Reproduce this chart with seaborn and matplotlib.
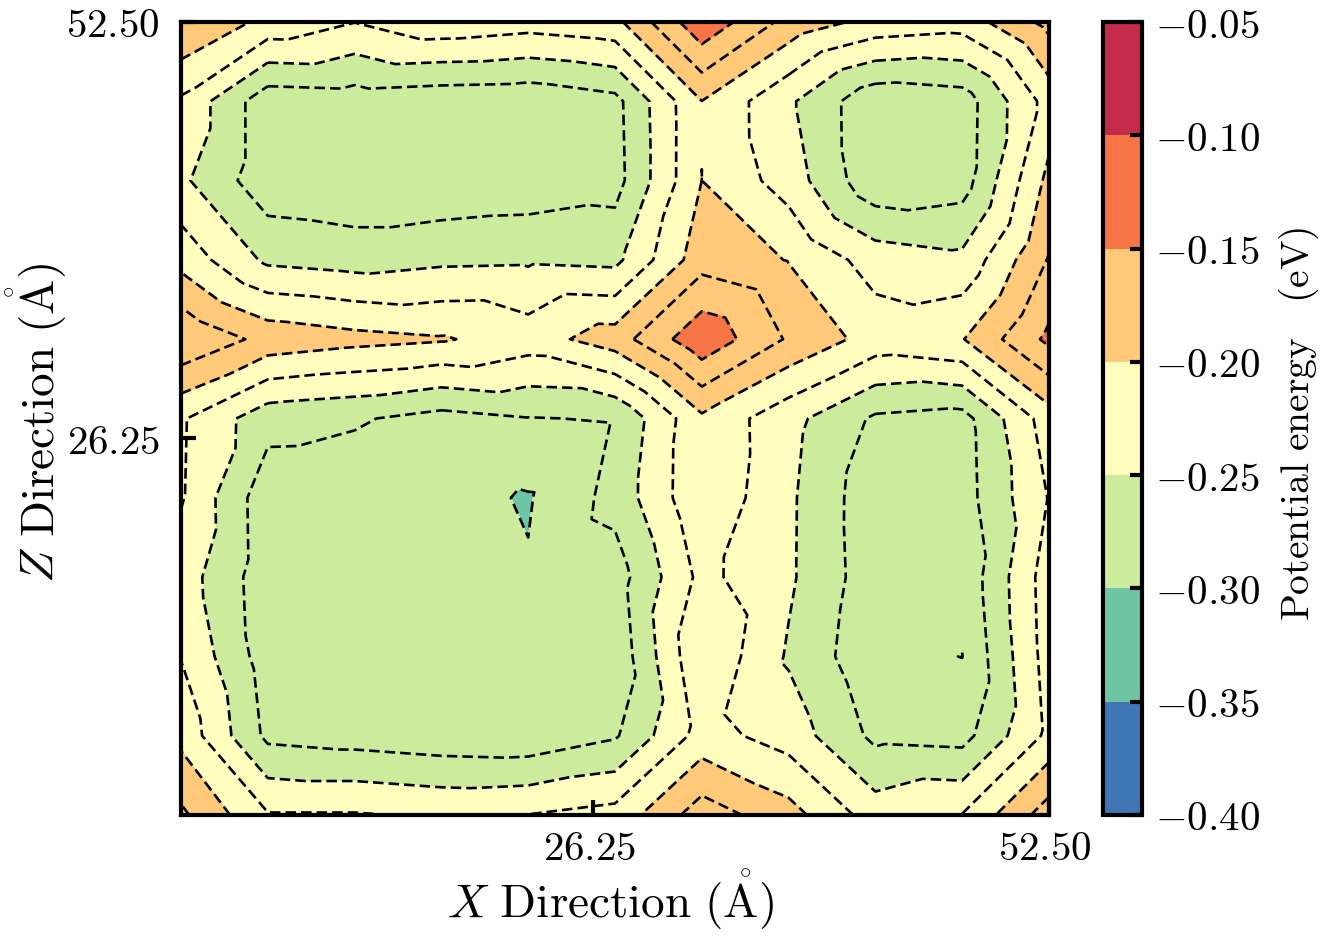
# potential energy map, x-z plane
import matplotlib
matplotlib.use('Agg')
import matplotlib.pyplot as plt
import matplotlib.tri as mtri
import matplotlib.transforms as mtrans
import numpy as np
import seaborn as sns

x_pos = [2.5, 7.5, 12.5, 17.5, 22.5, 27.5, 32.5, 37.5, 42.5, 47.5, 52.5]
z_pos = [52.5, 47.5, 42.5, 37.5, 32.5, 27.5, 22.5, 17.5, 12.5, 7.5, 2.5]

# one row per z value, top of the map first
row_525 = [-0.174, -0.207, -0.2245, -0.207, -0.214, -0.207, -0.1305, -0.1836, -0.208, -0.214, -0.167]
row_475 = [-0.229, -0.291, -0.288, -0.292, -0.294, -0.2827, -0.2003, -0.2458, -0.294, -0.288, -0.215]
row_425 = [-0.245, -0.291, -0.295, -0.295, -0.291, -0.2845, -0.19995, -0.2365, -0.2935, -0.287, -0.193]
row_375 = [-0.209, -0.255, -0.261, -0.255, -0.2536, -0.2566, -0.185, -0.201, -0.236, -0.244, -0.173]
row_325 = [-0.152, -0.183, -0.192, -0.1975, -0.212, -0.187, -0.131, -0.178, -0.2104, -0.2013, -0.144]
row_275 = [-0.222, -0.266, -0.272, -0.284, -0.276, -0.2735, -0.2047, -0.2417, -0.279, -0.2845, -0.212]
row_225 = [-0.223, -0.291, -0.292, -0.292, -0.302, -0.2665, -0.204, -0.2456, -0.2915, -0.286, -0.2236]
row_175 = [-0.237, -0.290, -0.295, -0.297, -0.298, -0.287, -0.218, -0.246, -0.290, -0.294, -0.212]
row_125 = [-0.226, -0.288, -0.294, -0.296, -0.297, -0.2935, -0.202, -0.253, -0.294, -0.3003, -0.214]
row_075 = [-0.207, -0.281, -0.286, -0.291, -0.293, -0.278, -0.215, -0.236, -0.281, -0.284, -0.219]
row_025 = [-0.170, -0.223, -0.223, -0.228, -0.2245, -0.216, -0.162, -0.19, -0.237, -0.224, -0.162]

# which way each grid cell is split into triangles, b = \ and f = /
cell_split = ['fbfbfbfbff', 'bffffffbff', 'bfffffbfbb', 'ffbfbffbfb', 'fffbbfffbb',
              'fbfbfffbfb', 'bffbffffff', 'bffffbfffb', 'fffffbfffb', 'bfffffbbbf']

fill_levels = [-0.40, -0.35, -0.30, -0.25, -0.20, -0.15, -0.10, -0.05]
line_levels = [-0.30, -0.275, -0.25, -0.225, -0.20, -0.175, -0.15]
tick_pos = [26.25, 52.5]
tick_labels = ['$26.25$', '$52.50$']
cbar_labels = ['$-0.40$', '$-0.35$', '$-0.30$', '$-0.25$', '$-0.20$', '$-0.15$', '$-0.10$', '$-0.05$']

sns.set_style('ticks', rc={'text.color': 'k', 'axes.labelcolor': 'k',
                           'xtick.color': 'k', 'ytick.color': 'k'})
plt.rcParams['mathtext.fontset'] = 'cm'
cmap = sns.color_palette('Spectral_r', as_cmap=True)

grid = np.array([row_525, row_475, row_425, row_375, row_325, row_275,
                 row_225, row_175, row_125, row_075, row_025])
xx, zz = np.meshgrid(x_pos, z_pos)

nx = len(x_pos)
triangles = []
for r, splits in enumerate(cell_split):
    for c, s in enumerate(splits):
        tl, tr = r * nx + c, r * nx + c + 1
        bl, br = tl + nx, tr + nx
        if s == 'b':
            triangles += [[tl, br, tr], [tl, bl, br]]
        else:
            triangles += [[tl, bl, tr], [bl, br, tr]]
tri = mtri.Triangulation(xx.ravel(), zz.ravel(), triangles)

fig = plt.figure(figsize=(13.26, 9.40), dpi=100)
ax = fig.add_axes([181 / 1326, 125 / 940, 868 / 1326, 793 / 940])
cax = fig.add_axes([1103 / 1326, 125 / 940, 39 / 1326, 793 / 940])

cf = ax.tricontourf(tri, grid.ravel(), levels=fill_levels, cmap=cmap)
ax.tricontour(tri, grid.ravel(), levels=line_levels, colors='k',
              linewidths=1.9, linestyles=[(0, (4.0, 1.9))])

ax.set_xlim(2.5, 52.5)
ax.set_ylim(2.5, 52.5)
ax.set_axisbelow(False)
ax.set_xticks(tick_pos)
ax.set_xticklabels(tick_labels)
ax.set_yticks(tick_pos)
ax.set_yticklabels(tick_labels)
ax.tick_params(direction='in', length=11, width=3, labelsize=29.5, color='k')
ax.tick_params(axis='x', pad=10)
ax.tick_params(axis='y', pad=15)
# x tick labels sit a little left of their ticks
shift = mtrans.ScaledTranslation(-4 / 100, 0, fig.dpi_scale_trans)
for lab in ax.get_xticklabels():
    lab.set_transform(lab.get_transform() + shift)
ax.set_xlabel(r'$\mathit{X}\ \mathrm{Direction}\ (\mathring{\mathrm{A}})$', fontsize=34, labelpad=-1, x=0.495)
ax.set_ylabel(r'$\mathit{Z}\ \mathrm{Direction}\ (\mathring{\mathrm{A}})$', fontsize=34, labelpad=-2, y=0.495)
for s in ax.spines.values():
    s.set_linewidth(3)
    s.set_color('k')

cbar = fig.colorbar(cf, cax=cax, ticks=fill_levels)
cbar.ax.set_yticklabels(cbar_labels)
cbar.ax.set_axisbelow(False)
cbar.ax.tick_params(direction='in', length=9, width=3, labelsize=29.5, pad=9.5, color='k')
cbar.outline.set_linewidth(3)
cbar.outline.set_edgecolor('k')
cbar.set_label(r'$\mathrm{Potential\ energy\ \ \ (eV)}$', fontsize=28.5, labelpad=12, y=0.494)

fig.savefig('out.png', dpi=100)
